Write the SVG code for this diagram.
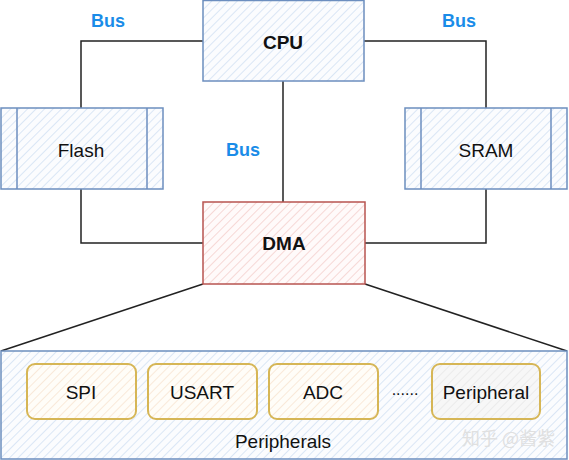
<svg xmlns="http://www.w3.org/2000/svg" width="569" height="460" viewBox="0 0 569 460">
<defs>
<pattern id="hb" patternUnits="userSpaceOnUse" width="6" height="6" patternTransform="rotate(45)"><rect width="6" height="6" fill="#fbfcfe"/><line x1="0" y1="0" x2="0" y2="6" stroke="#cfdff2" stroke-width="1.5"/></pattern>
<pattern id="hr" patternUnits="userSpaceOnUse" width="6" height="6" patternTransform="rotate(45)"><rect width="6" height="6" fill="#fffafa"/><line x1="0" y1="0" x2="0" y2="6" stroke="#f4cdcb" stroke-width="1.5"/></pattern>
<pattern id="hy" patternUnits="userSpaceOnUse" width="6" height="6" patternTransform="rotate(45)"><rect width="6" height="6" fill="#fffdf8"/><line x1="0" y1="0" x2="0" y2="6" stroke="#f7e3cf" stroke-width="1.5"/></pattern>
<pattern id="hg" patternUnits="userSpaceOnUse" width="6" height="6" patternTransform="rotate(45)"><rect width="6" height="6" fill="#f7f7f7"/><line x1="0" y1="0" x2="0" y2="6" stroke="#e8e8e8" stroke-width="1.5"/></pattern>
</defs>
<style>
.t{font-family:"Liberation Sans",Arial,sans-serif;font-size:19px;fill:#111;text-anchor:middle;dominant-baseline:central}
.b{font-weight:bold}
.bus{font-family:"Liberation Sans",Arial,sans-serif;font-size:18px;font-weight:bold;fill:#1a8ce8;text-anchor:middle;dominant-baseline:central}
.blue{fill:url(#hb);stroke:#6c8ebf;stroke-width:1.5}
.red{fill:url(#hr);stroke:#b85450;stroke-width:1.5}
.gold{fill:url(#hy);stroke:#d6b656;stroke-width:2}
.edge{fill:none;stroke:#222;stroke-width:1.5}
</style>
<rect width="569" height="460" fill="#fff"/>
<g id="connectors">
<polyline class="edge" points="203,41 81,41 81,108"/>
<polyline class="edge" points="364,41 486,41 486,108"/>
<line class="edge" x1="283" y1="81" x2="283" y2="202"/>
<polyline class="edge" points="81,189 81,243 203,243"/>
<polyline class="edge" points="365,243 486,243 486,189"/>
<line class="edge" x1="203" y1="284" x2="1" y2="351"/>
<line class="edge" x1="365" y1="284" x2="567" y2="351"/>
</g>
<g id="peripherals">
<rect class="blue" x="1" y="351" width="566" height="108"/>
<text class="t" x="283" y="441">Peripherals</text>
</g>
<g id="cpu">
<rect class="blue" x="203" y="0.5" width="161" height="80.5"/>
<text class="t b" x="283" y="42">CPU</text>
</g>
<g id="flash">
<rect class="blue" x="1" y="108" width="162" height="81"/>
<line x1="17" y1="108" x2="17" y2="189" stroke="#6c8ebf" stroke-width="1.5"/>
<line x1="147" y1="108" x2="147" y2="189" stroke="#6c8ebf" stroke-width="1.5"/>
<text class="t" x="81" y="150">Flash</text>
</g>
<g id="sram">
<rect class="blue" x="405" y="108" width="162" height="81"/>
<line x1="421" y1="108" x2="421" y2="189" stroke="#6c8ebf" stroke-width="1.5"/>
<line x1="551" y1="108" x2="551" y2="189" stroke="#6c8ebf" stroke-width="1.5"/>
<text class="t" x="486" y="150">SRAM</text>
</g>
<g id="dma">
<rect class="red" x="203" y="202" width="162" height="82"/>
<text class="t b" x="284" y="243">DMA</text>
</g>
<g id="spi">
<rect class="gold" x="27" y="364" width="109" height="55" rx="8"/>
<text class="t" x="81" y="392">SPI</text>
</g>
<g id="usart">
<rect class="gold" x="148" y="364" width="109" height="55" rx="8"/>
<text class="t" x="202" y="392">USART</text>
</g>
<g id="adc">
<rect class="gold" x="269" y="364" width="109" height="55" rx="8"/>
<text class="t" x="323" y="392">ADC</text>
</g>
<text class="t" x="405" y="389" style="font-size:16px">......</text>
<g id="peripheral">
<rect class="gold" x="432" y="364" width="108" height="55" rx="8" style="fill:url(#hg)"/>
<text class="t" x="486" y="392">Peripheral</text>
</g>
<text class="bus" x="108" y="21">Bus</text>
<text class="bus" x="459" y="21">Bus</text>
<text class="bus" x="243" y="150">Bus</text>
<text x="555" y="437" font-family="'Noto Sans CJK SC',sans-serif" font-size="18" fill="#e0e0e0" text-anchor="end" dominant-baseline="central">知乎 @酱紫</text>
</svg>
